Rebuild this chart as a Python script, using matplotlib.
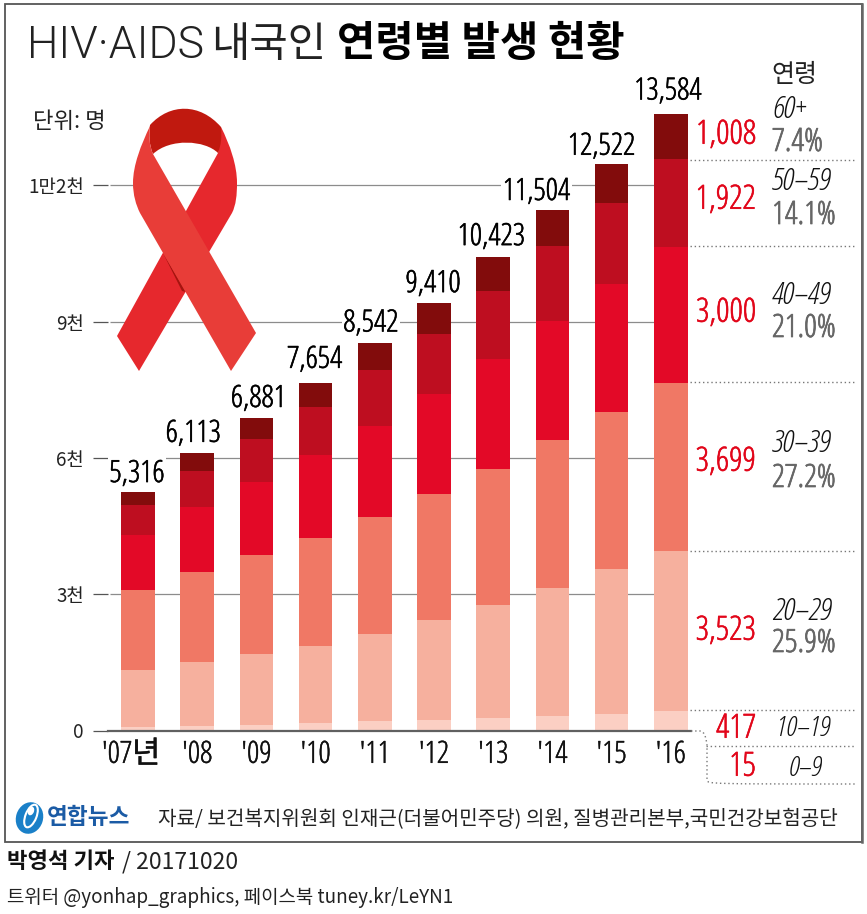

import numpy as np
import matplotlib
matplotlib.use('Agg')
import matplotlib.pyplot as plt
from matplotlib.patches import PathPatch, Rectangle, Ellipse
from matplotlib.path import Path
from matplotlib.patheffects import withStroke
from matplotlib.transforms import ScaledTranslation
import logging
logging.getLogger('matplotlib.font_manager').setLevel(logging.ERROR)

# ---------- data ----------
years = ["'07년", "'08", "'09", "'10", "'11", "'12", "'13", "'14", "'15", "'16"]
age_0_19 = [88, 110, 132, 161, 205, 242, 286, 330, 374, 432]
age_20_29 = [1255, 1395, 1556, 1710, 1916, 2180, 2481, 2818, 3171, 3523]
age_30_39 = [1754, 1974, 2165, 2378, 2569, 2774, 3001, 3248, 3467, 3699]
age_40_49 = [1211, 1431, 1629, 1806, 2025, 2206, 2411, 2613, 2812, 3000]
age_50_59 = [661, 793, 925, 1057, 1212, 1321, 1497, 1652, 1783, 1922]
age_60_up = [347, 410, 474, 542, 615, 687, 747, 843, 915, 1008]
totals = [5316, 6113, 6881, 7654, 8542, 9410, 10423, 11504, 12522, 13584]
y_ticks = [0, 3000, 6000, 9000, 12000]
y_labels = ['0', '3천', '6천', '9천', '1만2천']
latest_counts = ['1,008', '1,922', '3,000', '3,699', '3,523', '417', '15']
age_names = ['60+', '50–59', '40–49', '30–39', '20–29', '10–19', '0–9']
age_shares = ['7.4%', '14.1%', '21.0%', '27.2%', '25.9%']

# ---------- styles ----------
series = [age_0_19, age_20_29, age_30_39, age_40_49, age_50_59, age_60_up]
colors = ['#FBCFC3', '#F6B09E', '#F07865', '#E30927', '#BE0E20', '#820C0C']
NARROW = ['Open Sans', 'Noto Sans CJK KR']
NW = dict(fontfamily=NARROW, fontstretch='condensed', fontweight=300)
KR = ['Noto Sans CJK KR', 'DejaVu Sans']
def heavy(c, w=0.4):
    return [withStroke(linewidth=w, foreground=c)]
W, H = 867, 914
fig = plt.figure(figsize=(W/100, H/100), dpi=100, facecolor='white')
BASE, TOP_PX = 730.5, 100.0
SCALE = 0.04542
STEP, X0 = 59.2, 138.0
L, R = 108, 691
ax = fig.add_axes([L/W, 1-BASE/H, (R-L)/W, (BASE-TOP_PX)/H])
ax.set_xlim((L-X0)/STEP, (R-X0)/STEP)
ax.set_ylim(0, (BASE-TOP_PX)/SCALE)
for s in ['top', 'left', 'right']:
    ax.spines[s].set_visible(False)
ax.spines['bottom'].set_color('#606060')
ax.spines['bottom'].set_linewidth(1.6)
ax.spines['bottom'].set_zorder(5)

x = np.arange(len(years))
bottom = np.zeros(len(years))
for vals, c in zip(series, colors):
    ax.bar(x, vals, width=33.5/STEP, bottom=bottom, color=c, linewidth=0, zorder=3)
    bottom += np.array(vals)

ax.hlines(y_ticks[1:], (110-X0)/STEP, x[-1], color='#8c8c8c', lw=0.9, zorder=1)
ax.set_yticks(y_ticks)
ax.set_yticklabels(y_labels, fontfamily=KR, fontsize=13.6, color='#222222')
ax.tick_params(axis='y', length=10.8, width=0.9, color='#555555', pad=6.5)
ax.set_xticks(x)
ax.set_xticklabels(years, fontsize=22, color='#111111', path_effects=heavy('#111111', 0.3), **NW)
ax.tick_params(axis='x', length=0, pad=6)
first = ax.get_xticklabels()[0]
first.set_transform(first.get_transform() + ScaledTranslation(-7/100, 0, fig.dpi_scale_trans))

label_dx = [-1, -4, 2, -1, -4, -1, -2, -16, -10, -3]
label_gap = [7, 11, 11, 15, 11, 11, 12, 8, 7, 14]
for i, t in enumerate(totals):
    ax.annotate(f'{t:,}', (i, t), xytext=(label_dx[i]*.72, label_gap[i]*.72),
                textcoords='offset points', ha='center', va='baseline',
                fontsize=22, color='black', zorder=6, path_effects=heavy('black'),
                bbox=dict(boxstyle='square,pad=0.05', fc='white', ec='none'), **NW)

# ---------- overlay in pixel coordinates ----------
ov = fig.add_axes([0, 0, 1, 1], zorder=10)
ov.set_xlim(0, W); ov.set_ylim(H, 0); ov.axis('off'); ov.patch.set_alpha(0)

def T(px, py, s, **kw):
    kw.setdefault('va', 'center'); kw.setdefault('ha', 'left')
    kw.setdefault('fontfamily', KR); kw.setdefault('color', 'black')
    return ov.text(px, py, s, **kw)

# frame
ov.add_patch(Rectangle((4.5, 4), 857, 838, fc='none', ec='#555555', lw=1.3))
ov.plot([861.7, 861.7], [4, 842], color='#666666', lw=1.8)

# title
T(27, 46, 'HIV·AIDS', fontfamily=['Roboto', 'Noto Sans CJK KR'], fontweight=300, fontsize=32, color='#222222')
T(211, 45, '내국인', fontsize=30, fontweight=300, color='#222222')
T(337, 44, '연령별 발생 현황', fontsize=30, fontweight='bold')
T(33, 121, '단위: 명', fontsize=16, fontweight=300, color='#222222')

# ribbon
def shape(verts, codes, **kw):
    ov.add_patch(PathPatch(Path(verts, codes), lw=0, **kw))
M, LN, C4, CL = Path.MOVETO, Path.LINETO, Path.CURVE4, Path.CLOSEPOLY
shape([(221,127),(230,145),(237,165),(237,183),(237,195),(236,205),(232,213),(139,371),(117,336),(218,153),(219,145),(221,135),(221,127),(221,127)],
      [M,C4,C4,C4,C4,C4,C4,LN,LN,LN,C4,C4,C4,CL], fc='#E6282D')
shape([(150,125),(170,103),(200,103),(221,127),(222,137),(221,145),(218,153),(205,140),(170,138),(153,154),(149,145),(149,135),(150,125),(150,125)],
      [M,C4,C4,C4,C4,C4,C4,C4,C4,C4,C4,C4,C4,CL], fc='#C0190F')
shape([(163,253),(186,292),(182,291),(163,253)], [M,LN,LN,CL], fc='#A5140F')
shape([(150,126),(141,145),(133,165),(133,183),(133,195),(136,205),(140,213),(231,371),(256,333),(153,154),(149,145),(149,135),(150,126),(150,126)],
      [M,C4,C4,C4,C4,C4,C4,LN,LN,LN,C4,C4,C4,CL], fc='#E83D38')

# dotted guides
dot = dict(color='#777777', lw=1.0, linestyle=(0, (1, 2)))
for yy in [160, 246, 382, 550.5, 710]:
    ov.plot([690, 855], [yy, yy], **dot)
ov.plot([706, 855], [746, 746], **dot)
ov.add_patch(PathPatch(Path([(691,731),(700,731),(704,731),(706,737),(707,745),(707,780),(707,784),(711,784),(855,784)],
                            [M,LN,C4,C4,LN,LN,C4,C4,LN]), fc='none', **dot))

# right hand labels
count_y = [135, 200, 313, 462, 631, 729, 767]
RED = '#E2061A'
for yy, s in zip(count_y, latest_counts):
    T(756, yy, s, ha='right', fontsize=24, color=RED, path_effects=heavy(RED), **NW)
name_x = [772, 772, 772, 772, 772, 776, 789]
name_y = [109, 182, 296, 443, 611, 728, 768]
share_y = [143, 216, 329, 479, 644]
for i, s in enumerate(age_names):
    T(name_x[i], name_y[i], s, fontsize=22.5 if i < 5 else 20.5, fontstyle='italic', color='#111111', **NW)
for yy, s in zip(share_y, age_shares):
    T(772, yy, s, fontsize=23, color='#666666', path_effects=heavy('#666666', 0.5), **NW)
T(771, 75, '연령', fontsize=18, fontweight=300, color='#222222')

# logo
ov.add_patch(Ellipse((29.5, 818), 27, 32, angle=18, fc='#1A80C8', lw=0))
ov.add_patch(Ellipse((31, 816), 11, 24, angle=22, fc='none', ec='white', lw=1.5))
ov.add_patch(Ellipse((31, 811), 6, 9, angle=22, fc='white', lw=0))
T(47, 817, '연합뉴스', fontsize=16.3, fontweight='bold', color='#1B5BA5')

# credits
T(158, 820, '자료/ 보건복지위원회 인재근(더불어민주당) 의원, 질병관리본부,국민건강보험공단', fontsize=14.5, fontweight=300, color='#222222')
T(7, 862, '박영석 기자', fontsize=16, fontweight='bold', color='#111111')
T(122, 862, '/ 20171020', fontsize=16.5, fontweight=300, color='#222222')
T(7, 897, '트위터 @yonhap_graphics, 페이스북 tuney.kr/LeYN1', fontsize=13.6, fontweight=300, color='#222222')

fig.savefig('out.png', dpi=100)
